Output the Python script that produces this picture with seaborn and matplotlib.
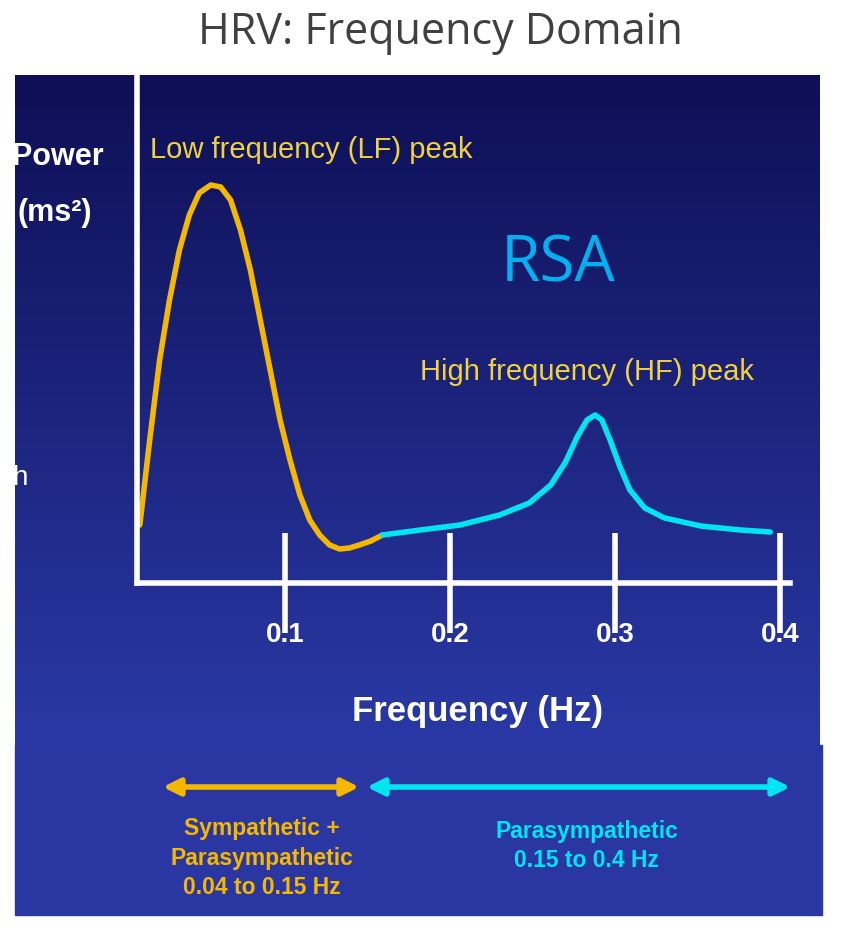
import numpy as np
import pandas as pd
import matplotlib
matplotlib.use("Agg")
import matplotlib.pyplot as plt
import seaborn as sns

# values (frequency in Hz, power in arbitrary units)
lf_freq = [0.012, 0.018, 0.024, 0.030, 0.036, 0.042, 0.048, 0.055, 0.061, 0.067, 0.073,
           0.079, 0.085, 0.091, 0.097, 0.103, 0.109, 0.115, 0.121, 0.127, 0.133, 0.139,
           0.145, 0.152, 0.159]
lf_power = [58, 143, 223, 283, 333, 368, 390, 398, 396, 383, 353, 313, 263, 213, 163, 123,
            88, 63, 48, 38, 34, 35, 38, 42, 48]
hf_freq = [0.159, 0.182, 0.206, 0.230, 0.248, 0.261, 0.270, 0.277, 0.283, 0.288, 0.292,
           0.297, 0.303, 0.309, 0.318, 0.330, 0.352, 0.376, 0.394]
hf_power = [48, 53, 58, 68, 80, 98, 121, 146, 163, 168, 163, 143, 116, 93, 75, 65, 57, 53, 51]
tick_vals = [0.1, 0.2, 0.3, 0.4]

sns.set_style("white")
plt.rcParams['font.family'] = ['Liberation Sans', 'DejaVu Sans']

W, H = 841, 926
fig = plt.figure(figsize=(W / 100, H / 100), dpi=100)
bg = fig.add_axes([0, 0, 1, 1])
bg.set_xlim(0, W)
bg.set_ylim(H, 0)
bg.axis("off")

# gradient panel and lower panel
grad = np.linspace(0, 1, 256).reshape(-1, 1)
cmap = matplotlib.colors.LinearSegmentedColormap.from_list("bl", ["#0e0f55", "#2a39a6"])
bg.imshow(grad, extent=(15, 820, 745, 75), cmap=cmap, aspect="auto")
bg.add_patch(plt.Rectangle((15, 745), 807, 170, color="#2a37a3"))

bg.text(440, 33, "HRV: Frequency Domain", ha="center", va="center", fontsize=31,
        color="#404040", family=["Open Sans", "DejaVu Sans"])
bg.text(12, 157, "Power", ha="left", va="center", fontsize=22, color="white", fontweight="bold")
bg.text(18, 213, "(ms²)", ha="left", va="center", fontsize=22, color="white", fontweight="bold")
bg.text(12, 478, "h", ha="left", va="center", fontsize=20, color="white")
bg.text(150, 150, "Low frequency (LF) peak", ha="left", va="center", fontsize=21, color="#f2d23c")
bg.text(420, 372, "High frequency (HF) peak", ha="left", va="center", fontsize=21, color="#f2d23c")
bg.text(558, 265, "RSA", ha="center", va="center", fontsize=46, color="#00b0f0",
        family=["Open Sans", "DejaVu Sans"])
bg.text(478, 712, "Frequency (Hz)", ha="center", va="center", fontsize=25, color="white",
        fontweight="bold")

# range arrows and labels
bg.annotate("", xy=(160, 787), xytext=(362, 787),
            arrowprops=dict(arrowstyle="<|-|>", color="#f5b800", lw=4, mutation_scale=25))
bg.annotate("", xy=(364, 787), xytext=(793, 787),
            arrowprops=dict(arrowstyle="<|-|>", color="#00e5f0", lw=4, mutation_scale=25))
bg.text(262, 858, "Sympathetic +\nParasympathetic\n0.04 to 0.15 Hz", ha="center", va="center",
        fontsize=16.5, color="#f5b800", fontweight="bold", linespacing=1.35)
bg.text(587, 846, "Parasympathetic\n0.15 to 0.4 Hz", ha="center", va="center",
        fontsize=16.5, color="#00e5f0", fontweight="bold", linespacing=1.35)

# data axes: left 137, right 790, bottom 583, top 75 (pixels)
ax = fig.add_axes([137 / W, 1 - 583 / H, (790 - 137) / W, (583 - 75) / H])
ax.patch.set_alpha(0)
lf = pd.DataFrame({"f": lf_freq, "p": lf_power})
hf = pd.DataFrame({"f": hf_freq, "p": hf_power})
sns.lineplot(data=lf, x="f", y="p", ax=ax, color="#f5b800", lw=4, sort=False)
sns.lineplot(data=hf, x="f", y="p", ax=ax, color="#00e5f0", lw=4, sort=False)
ax.set_xlim(0.0103, 0.406)
ax.set_ylim(0, 508)
for s in ["top", "right"]:
    ax.spines[s].set_visible(False)
for s in ["left", "bottom"]:
    ax.spines[s].set_color("white")
    ax.spines[s].set_linewidth(4)
ax.set_xticks(tick_vals)
ax.set_xticklabels([str(t) for t in tick_vals], color="white", fontsize=20, fontweight="bold")
ax.tick_params(axis="x", bottom=True, direction="inout", length=72, width=4, color="white", pad=-8)
ax.set_yticks([])
ax.set_xlabel("")
ax.set_ylabel("")

fig.savefig("out.png", dpi=100)
